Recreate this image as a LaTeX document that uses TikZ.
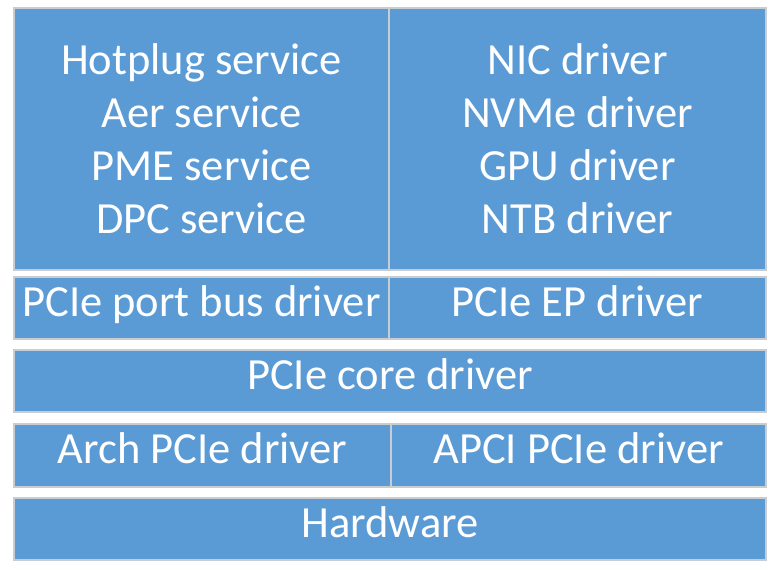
\documentclass[tikz,border=0pt]{standalone}
\usepackage{fontspec}
\setmainfont{Carlito}
\definecolor{boxblue}{HTML}{5B9BD5}
\definecolor{edge}{HTML}{C8CDD3}
\tikzset{blk/.style={fill=boxblue, draw=edge, line width=1.5pt, text=white, align=center, font=\fontsize{44.5}{53}\selectfont, inner sep=0pt},
one/.style={text height=28pt, text depth=12pt}}
\begin{document}
\begin{tikzpicture}[x=1pt,y=-1pt]
\useasboundingbox (0,0) rectangle (771,571);
\node[blk, minimum width=375pt, minimum height=262pt] (hs) at (201.5,139) {Hotplug service\\Aer service\\PME service\\DPC service};
\node[blk, minimum width=377pt, minimum height=262pt] (dr) at (577.5,139) {NIC driver\\NVMe driver\\GPU driver\\NTB driver};
\node[blk, one, minimum width=375pt, minimum height=62pt] (pb) at (201.5,308) {PCIe port bus driver};
\node[blk, one, minimum width=377pt, minimum height=62pt] (ep) at (577.5,308) {PCIe EP driver};
\node[blk, one, minimum width=752pt, minimum height=62pt] (core) at (390,381) {PCIe core driver};
\node[blk, one, minimum width=377pt, minimum height=63pt] (arch) at (202.5,455.5) {Arch PCIe driver};
\node[blk, one, minimum width=375pt, minimum height=63pt] (apci) at (578.5,455.5) {APCI PCIe driver};
\node[blk, one, minimum width=752pt, minimum height=62pt] (hw) at (390,529) {Hardware};
\end{tikzpicture}
\end{document}
